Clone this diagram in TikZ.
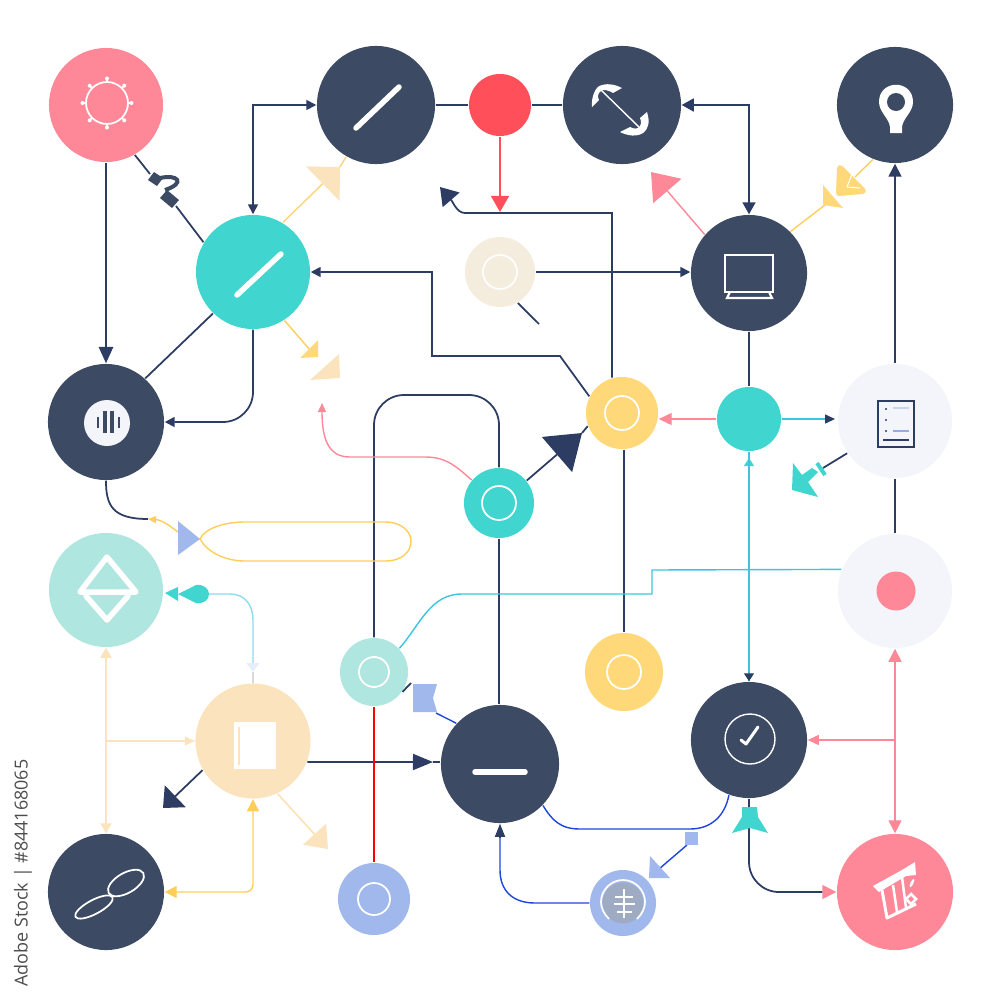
\documentclass[tikz,border=0pt]{standalone}
\usepackage{fontspec}
\setmainfont{Open Sans}
\usetikzlibrary{arrows.meta}
\definecolor{ink}{HTML}{3C4A63}
\definecolor{navy}{HTML}{2C3C62}
\definecolor{teal}{HTML}{40D6CF}
\definecolor{rose}{HTML}{FE8898}
\definecolor{scarlet}{HTML}{FF4F5B}
\definecolor{cream}{HTML}{F4ECDC}
\definecolor{sun}{HTML}{FFD87A}
\definecolor{amber}{HTML}{FFCE5A}
\definecolor{mint}{HTML}{AFE6DF}
\definecolor{peach}{HTML}{FBE3BD}
\definecolor{periwinkle}{HTML}{A1B8EC}
\definecolor{mist}{HTML}{F3F5FA}
\definecolor{sky}{HTML}{3DC5E0}
\definecolor{cobalt}{HTML}{1F45E0}
\definecolor{slate}{HTML}{9FABC3}
\tikzset{
  % node options
  hub/.style={circle,inner sep=0pt,draw=none},
  % path options
  flow/.style={draw=navy,line width=.5pt},
  icon/.style={draw=white,line width=.5pt},
  bar/.style={draw=white,line width=.55mm,line cap=round},
  % arrow tips, sizes as length and width
  tip/.style 2 args={-{Triangle[length=#1mm,width=#2mm]}},
  tips/.style 2 args={{Triangle[length=#1mm,width=#2mm]}-{Triangle[length=#1mm,width=#2mm]}},
  tipIn/.style n args={3}{-{Triangle[length=#1mm,width=#2mm,color=#3]}},
}

\begin{document}
\begin{tikzpicture}[x=.01cm,y=-.01cm]
    \useasboundingbox (0,0) rectangle (1000,1000);
    % first row
    \node[hub,fill=rose,minimum size=11.4mm] (gear) at (106,105) {};
    \node[hub,fill=ink,minimum size=11.8mm] (slashDark) at (376,105) {};
    \node[hub,fill=scarlet,minimum size=6.2mm] (redDot) at (500,105) {};
    \node[hub,fill=ink,minimum size=11.8mm] (anchorDark) at (622,105) {};
    \node[hub,fill=ink,minimum size=11.6mm] (bulb) at (895,105) {};
    % second row
    \node[hub,fill=teal,minimum size=11.4mm] (slashTeal) at (253,272) {};
    \node[hub,fill=cream,minimum size=7mm] (creamRing) at (500,272) {};
    \node[hub,fill=ink,minimum size=11.6mm] (monitor) at (749,273) {};
    % third row
    \node[hub,fill=ink,minimum size=11.6mm] (sound) at (106,422) {};
    \node[hub,fill=sun,minimum size=7.2mm] (sunRing) at (622,413) {};
    \node[hub,fill=teal,minimum size=6.4mm] (tealDot) at (749,419) {};
    \node[hub,fill=mist,minimum size=11.4mm] (page) at (895,421) {};
    \node[hub,fill=teal,minimum size=7mm] (tealRing) at (499,503) {};
    % fourth row
    \node[hub,fill=mint,minimum size=11.4mm] (diamond) at (106,590) {};
    \node[hub,fill=mist,minimum size=11.4mm] (target) at (895,591) {};
    \node[hub,fill=mint,minimum size=6.8mm] (mintRing) at (374,672) {};
    \node[hub,fill=sun,minimum size=7.8mm] (sunLow) at (624,672) {};
    % fifth row
    \node[hub,fill=peach,minimum size=11.5mm] (book) at (253,741) {};
    \node[hub,fill=ink,minimum size=11.8mm] (minus) at (500,764) {};
    \node[hub,fill=ink,minimum size=11.6mm] (check) at (749,740) {};
    % last row
    \node[hub,fill=ink,minimum size=11.6mm] (chain) at (106,892) {};
    \node[hub,fill=periwinkle,minimum size=7.2mm] (blueRing) at (374,899) {};
    \node[hub,fill=periwinkle,minimum size=6.6mm] (spine) at (623,903) {};
    \node[hub,fill=rose,minimum size=11.6mm] (roof) at (895,892) {};
    \node[rotate=90,text=black!70,font=\fontsize{5.1pt}{6pt}\selectfont,inner sep=0pt] (stamp) at (23,873) {Adobe Stock | \#844168065};
    % free ends
    \coordinate (gearEnd) at (150,174);
    \coordinate (peachTip) at (340,167);
    \coordinate (sunTip) at (310,350);
    \coordinate (redTip) at (500,212);
    \coordinate (navyTip) at (440,187);
    \coordinate (creamEnd) at (539,324);
    \coordinate (roseTip) at (651,172);
    \coordinate (amberEnd) at (825,205);
    \coordinate (blobEnd) at (855,177);
    \coordinate (bigTip) at (582,433);
    \coordinate (pinkTip) at (322,403);
    \coordinate (pageEnd) at (823,468);
    \coordinate (soundEnd) at (148,519);
    \coordinate (loopEnd) at (178,532);
    \coordinate (blobStart) at (209,594);
    \coordinate (paleTip) at (253,672);
    \coordinate (flagEnd) at (411,683);
    \coordinate (flagStart) at (436,713);
    \coordinate (inkTip) at (163,808);
    \coordinate (peachLow) at (328,849);
    \coordinate (minusTip) at (433,762);
    \coordinate (tealTip) at (749,458);
    \coordinate (funnelTop) at (749,807);
    \coordinate (funnelEnd) at (749,828);
    \coordinate (squareEnd) at (687,845);
    \coordinate (blueTip) at (659,869);
    \coordinate (slashEnd) at (176,206);
    \coordinate (peachFork) at (106,741);
    \coordinate (roseFork) at (895,740);
    % dark connectors
    \draw[flow,tip={1.65}{1.45}] (gear) -- (sound);
    \draw[flow] (gear.300) -- (gearEnd);
    \draw[flow] (slashTeal.149) -- (slashEnd);
    \draw[flow] (slashTeal.226) -- (sound.48);
    \draw[flow,tip={1}{1},rounded corners=3mm] (slashTeal.south) |- (sound.east);
    \draw[flow,tips={1}{1}] (slashDark.west) -| (slashTeal.north);
    \draw[flow] (slashDark) -- (redDot);
    \draw[flow] (redDot) -- (anchorDark);
    \draw[flow,tips={1.2}{1.3}] (anchorDark.east) -| (monitor.north);
    \draw[flow,tip={1.7}{2.2}] (sunRing.106) -- (612,213) -- (465,213) .. controls (457,213) and (453,202) .. (navyTip);
    \draw[flow,tip={1}{1}] (creamRing.east) -- (creamRing.east -| monitor.west);
    \draw[flow] (creamRing.-60) -- (creamEnd);
    \draw[flow,tip={1}{1}] (sunRing.153) -- (560,356) -- (432,356) -- (432,272) -- (slashTeal.east);
    \draw[flow] (monitor) -- (tealDot);
    \draw[flow,tip={1.3}{1.3}] (page.north) -- (bulb.south);
    \draw[flow] (page) -- (target);
    \draw[flow] (page.214) -- (pageEnd);
    \draw[flow,tip={3.3}{4.6}] (tealRing.39) -- (bigTip);
    \draw[flow] (sunRing.201) -- (bigTip);
    \draw[flow] (tealRing.south) -- (tealRing.south |- minus.north);
    \draw[flow,rounded corners=3mm] (mintRing.north) -- (374,395) -- (499,395) -- (tealRing.north);
    \draw[flow] (sunRing.south) ++(2,0) -- (sunLow.north);
    \draw[flow] (sound.south) .. controls (106,505) and (112,519) .. (soundEnd);
    \draw[flow,tip={2}{1.6}] (book.339) -- (minusTip);
    \draw[flow] (minusTip) -- (minusTip -| minus.west);
    \draw[flow,tip={1.7}{3}] (book.210) -- (inkTip);
    \draw[flow] (flagEnd) -- (mintRing.-35);
    \draw[flow] (check) -- (funnelTop);
    \draw[flow,tipIn={1.4}{1.4}{rose},rounded corners=3mm] (funnelEnd) |- (roof.west);
    % pale and coloured connectors
    \draw[scarlet,tip={1.6}{1.8}] (redDot) -- (redTip);
    \draw[amber!70!peach,tipIn={2.4}{4.8}{peach}] (slashTeal.59) -- (peachTip);
    \draw[amber!70!peach] (slashDark.240) -- (peachTip);
    \draw[amber] (slashTeal.303) -- (sunTip);
    \draw[rose,tip={2.5}{3.7}] (monitor.139) -- (roseTip);
    \draw[amber] (monitor.45) -- (amberEnd);
    \draw[amber] (bulb.248) -- (blobEnd);
    \draw[rose,tip={1.3}{1.2}] (tealDot.west) -- (tealDot.west -| sunRing.east);
    \draw[sky,tipIn={1}{.9}{navy}] (tealDot.east) -- (835,419);
    \draw[rose,tip={.9}{.8}] (tealRing.140) .. controls (455,465) and (445,457) .. (425,457) -- (350,457) .. controls (332,457) and (322,445) .. (pinkTip);
    \draw[amber,tip={.8}{.7}] (loopEnd) .. controls (170,526) and (162,520) .. (soundEnd);
    \draw[amber] (200,539) .. controls (205,528) and (225,522) .. (245,522) -- (385,522) .. controls (402,522) and (411,532) .. (411,541) .. controls (411,552) and (402,561) .. (385,561) -- (245,561) .. controls (225,561) and (207,552) .. (200,539) -- cycle;
    \draw[sky!60,tipIn={.9}{1.3}{periwinkle!25}] (blobStart) -- (230,594) .. controls (245,594) and (253,605) .. (253,620) -- (paleTip);
    \draw[black!15] (paleTip) -- (book.north);
    \draw[sky] (target.158) -- (652,570) -- (652,594) -- (462,594) .. controls (430,594) and (420,625) .. (mintRing.43);
    \draw[sky,tipIn={.8}{1}{teal}] (check.north) -- (tealTip);
    \draw[sky] (tealTip) -- (tealDot.south);
    \draw[sky,tipIn={.8}{1}{navy}] (tealTip) -- (check.north);
    \draw[red] (mintRing) -- (blueRing);
    \draw[cobalt] (flagStart) -- (minus.137);
    \draw[peach,tips={1}{1.1}] (diamond.south) -- (chain.north);
    \draw[peach,tip={1}{.9}] (peachFork) -- (book.west);
    \draw[amber,tips={1.2}{1.2}] (chain.east) -- (245,892) .. controls (250,892) and (253,889) .. (253,884) -- (book.south);
    \draw[peach!80!amber,tipIn={2}{3.1}{peach}] (book.295) -- (peachLow);
    \draw[cobalt] (minus.-44) .. controls (552,820) and (560,829) .. (580,829) -- (690,829) .. controls (712,829) and (725,815) .. (check.250);
    \draw[cobalt] (spine.west) -- (535,903) .. controls (512,903) and (500,890) .. (500,870) -- (500,838);
    \draw[navy,tip={1.3}{1}] (500,838) -- (minus.south);
    \draw[cobalt] (squareEnd) -- (blueTip);
    \draw[rose,tips={1.3}{1.3}] (target.south) -- (roof.north);
    \draw[rose,tip={1.1}{1}] (roseFork) -- (check.east);
    % loose triangles and blobs
    \fill[sun] (318,340) -- (300,358) -- (318,357) -- cycle;
    \fill[peach] (339,354) -- (310,380) -- (340,378) -- cycle;
    \fill[periwinkle] (178,521) -- (200,539) -- (178,555) -- cycle;
    \fill[periwinkle] (413,684) -- (437,684) -- (433,698) -- (437,712) -- (413,712) -- cycle;
    \fill[periwinkle] (685,832) rectangle (698,845);
    \fill[periwinkle] (650,856) -- (649,878) -- (670,878) -- cycle;
    \fill[sun] (823,185) -- (843,208) -- (823,205) -- cycle;
    \draw[sun,fill=sun,line join=round,line width=.6mm] (840,168) -- (839,193) -- (863,191) -- cycle;
    \draw[white,line width=.3pt] (847,187) -- (860,188) (847,187) -- (852,174);
    \fill[teal] (793,463) -- (792,490) -- (818,497) -- (808,482) -- (818,472) -- (812,468) -- (802,475) -- cycle;
    \draw[teal,line width=.4mm] (817,463) -- (825,475);
    \fill[teal] (165,593) -- (178,587) -- (178,601) -- cycle;
    \fill[teal] (178,594) -- (196,585) .. controls (204,584) and (209,589) .. (209,594) .. controls (209,600) and (204,604) .. (196,603) -- cycle;
    \fill[teal] (742,807) -- (757,807) -- (758,817) -- (768,833) -- (750,828) -- (732,833) -- (742,817) -- cycle;
    \fill[ink] (154,172) -- (148,180) -- (157,186) -- (163,178) -- cycle;
    \draw[ink,line width=.4mm] (160,178) .. controls (178,174) and (186,183) .. (165,190);
    \fill[ink] (167,190) -- (160,198) -- (172,208) -- (179,200) -- cycle;
    % rings
    \foreach \ringName/\ringSize in {creamRing/17,sunRing/17,tealRing/17,mintRing/15,sunLow/17,blueRing/16}
      \draw[icon] (\ringName) circle [radius=\ringSize];
    % gear
    \draw[icon] (107,103) circle [radius=21];
    \foreach \spoke in {0,45,...,315} {
      \draw[icon] (107,103) ++(\spoke:.21cm) -- ++(\spoke:.03cm);
      \fill[white] (107,103) ++(\spoke:.245cm) circle [radius=2];
    }
    % slashes and minus
    \draw[bar] (356,128) -- (399,87);
    \draw[bar] (237,295) -- (281,254);
    \draw[bar] (475,772) -- (525,772);
    % sound
    \fill[mist] (107,423) circle [radius=23];
    \draw[ink,line width=.26mm] (98,417) -- (98,428) (119,417) -- (119,428);
    \draw[ink,line width=.36mm] (105,411) -- (105,433) (112,411) -- (112,433);
    % anchor
    \draw[icon,line width=.4pt] (601,90) -- (640,128);
    \fill[white] (592,107) .. controls (591,98) and (595,86) .. (602,85) .. controls (610,83) and (616,85) .. (622,88) -- (613,93) .. controls (608,90) and (603,89) .. (601,91) .. controls (598,93) and (597,97) .. (599,100) -- cycle;
    \fill[white] (647,112) .. controls (650,122) and (649,128) .. (643,133) .. controls (637,137) and (628,136) .. (620,132) -- (630,127) .. controls (634,129) and (637,129) .. (638,128) .. controls (641,126) and (642,122) .. (640,118) -- cycle;
    % bulb
    \fill[white] (879,102) .. controls (879,79) and (913,79) .. (913,102) .. controls (913,112) and (903,118) .. (902,127) -- (902,133) -- (890,133) -- (890,127) .. controls (889,118) and (879,112) .. (879,102) -- cycle;
    \fill[ink] (896,102) circle [radius=9];
    % monitor
    \draw[icon,line width=.6pt] (725,255) rectangle (773,292);
    \draw[icon,line width=.6pt] (730,292) -- (727,298) -- (772,298) -- (769,292);
    % page
    \draw[navy,line width=.5pt] (878,401) rectangle (914,447);
    \fill[navy] (886,409) circle [radius=1.2] (886,420) circle [radius=1.2] (886,431) circle [radius=1.2];
    \draw[periwinkle!60,line width=.4pt] (893,408) -- (909,408);
    \draw[periwinkle!90!navy,line width=.5pt] (893,431) -- (909,431);
    \draw[navy,line width=.5pt] (883,440) -- (909,440);
    % diamond
    \draw[white,line width=.55mm,line join=round,line cap=round] (107,557) -- (80,592) -- (136,592) -- cycle;
    \draw[white,line width=.55mm,line join=round,line cap=round] (86,596) -- (107,620) -- (128,596);
    % target
    \fill[rose] (896,591) circle [radius=19.5];
    % book
    \fill[white] (234,722) rectangle (276,769);
    \draw[peach,line width=.2mm] (239,727) -- (239,765);
    % check
    \draw[icon,line width=.4pt] (750,739) circle [radius=25];
    \draw[white,line width=.3mm,line join=round,line cap=round] (741,740) -- (746,744) -- (758,727);
    % chain
    \draw[icon,rotate around={30:(126,883)}] (126,883) ellipse [x radius=20,y radius=10];
    \draw[icon,rotate around={28:(94,907)}] (94,907) ellipse [x radius=21,y radius=7];
    % roof
    \fill[white] (873,886) -- (902,870) -- (915,862) -- (916,875) -- (906,876) -- (879,892) -- cycle;
    \draw[white,line width=.3mm,line join=round] (882,890) -- (887,918) -- (916,904);
    \draw[white,line width=.25mm] (893,885) -- (897,912) (902,877) -- (906,908);
    \draw[white,line width=.25mm] (911,894) -- (916,899) -- (911,904) -- (906,899) -- cycle;
    \fill[white,rotate around={65:(912,883)}] (912,883) ellipse [x radius=4.5,y radius=1.5];
    % spine
    \fill[slate] (623,903) circle [radius=20.5];
    \draw[icon,line width=.5pt] (609,919) .. controls (604,914) and (601,908) .. (601,902) .. controls (601,890) and (611,880) .. (623,880) .. controls (635,880) and (645,890) .. (645,902) .. controls (645,908) and (642,914) .. (637,919);
    \draw[icon,line width=.6pt] (624,889) -- (624,918) (615,897) -- (633,897) (614,904) -- (635,904) (617,912) -- (632,912);
\end{tikzpicture}
\end{document}
